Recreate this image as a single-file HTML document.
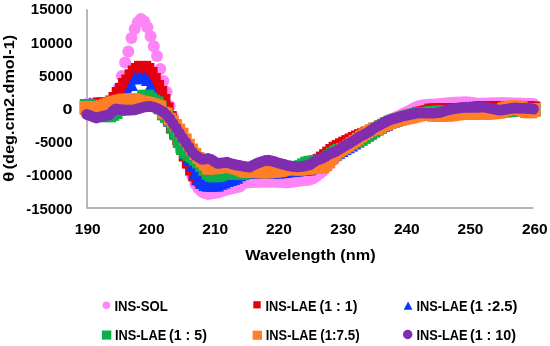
<!DOCTYPE html>
<html lang="en"><head><meta charset="utf-8"><title>CD spectra</title>
<style>html,body{margin:0;padding:0;background:#fff}svg{display:block}</style></head>
<body>
<svg width="550" height="346" viewBox="0 0 550 346">
<rect width="550" height="346" fill="#fff"/>
<path d="M87 9.3V208H533.3" fill="none" stroke="#9c9c9c" stroke-width="1.4"/>
<g fill="#FF84F6"><circle cx="86.8" cy="104.0" r="6.0"/><circle cx="90.0" cy="104.0" r="6.0"/><circle cx="93.2" cy="104.0" r="6.0"/><circle cx="96.4" cy="104.0" r="6.0"/><circle cx="99.6" cy="104.0" r="6.0"/><circle cx="102.8" cy="104.0" r="6.0"/><circle cx="105.9" cy="104.0" r="6.0"/><circle cx="109.1" cy="104.0" r="6.0"/><circle cx="112.3" cy="103.0" r="6.0"/><circle cx="115.5" cy="98.0" r="6.0"/><circle cx="118.7" cy="88.0" r="6.0"/><circle cx="121.9" cy="76.0" r="6.0"/><circle cx="125.1" cy="62.5" r="6.0"/><circle cx="128.3" cy="51.6" r="6.0"/><circle cx="131.5" cy="38.0" r="6.0"/><circle cx="134.7" cy="28.9" r="6.0"/><circle cx="137.8" cy="22.3" r="6.0"/><circle cx="141.0" cy="19.0" r="6.0"/><circle cx="144.2" cy="21.5" r="6.0"/><circle cx="147.4" cy="27.2" r="6.0"/><circle cx="150.6" cy="36.3" r="6.0"/><circle cx="153.8" cy="46.2" r="6.0"/><circle cx="157.0" cy="56.0" r="6.0"/><circle cx="160.2" cy="69.0" r="6.0"/><circle cx="163.4" cy="81.0" r="6.0"/><circle cx="166.6" cy="92.0" r="6.0"/><circle cx="169.7" cy="106.0" r="6.0"/><circle cx="172.9" cy="116.8" r="6.0"/><circle cx="176.1" cy="126.8" r="6.0"/><circle cx="179.3" cy="136.1" r="6.0"/><circle cx="182.5" cy="145.2" r="6.0"/><circle cx="185.7" cy="154.3" r="6.0"/><circle cx="188.9" cy="165.3" r="6.0"/><circle cx="192.1" cy="175.5" r="6.0"/><circle cx="195.3" cy="183.9" r="6.0"/><circle cx="198.4" cy="188.3" r="6.0"/><circle cx="201.6" cy="191.4" r="6.0"/><circle cx="204.8" cy="193.0" r="6.0"/><circle cx="208.0" cy="193.9" r="6.0"/><circle cx="211.2" cy="193.4" r="6.0"/><circle cx="214.4" cy="193.0" r="6.0"/><circle cx="217.6" cy="192.5" r="6.0"/><circle cx="220.8" cy="191.6" r="6.0"/><circle cx="224.0" cy="190.6" r="6.0"/><circle cx="227.2" cy="189.6" r="6.0"/><circle cx="230.4" cy="188.7" r="6.0"/><circle cx="233.5" cy="188.0" r="6.0"/><circle cx="236.7" cy="187.2" r="6.0"/><circle cx="239.9" cy="186.5" r="6.0"/><circle cx="243.1" cy="183.7" r="6.0"/><circle cx="246.3" cy="182.4" r="6.0"/><circle cx="249.5" cy="182.2" r="6.0"/><circle cx="252.7" cy="182.0" r="6.0"/><circle cx="255.9" cy="181.9" r="6.0"/><circle cx="259.1" cy="181.7" r="6.0"/><circle cx="262.2" cy="181.7" r="6.0"/><circle cx="265.4" cy="181.7" r="6.0"/><circle cx="268.6" cy="181.7" r="6.0"/><circle cx="271.8" cy="181.7" r="6.0"/><circle cx="275.0" cy="181.8" r="6.0"/><circle cx="278.2" cy="182.0" r="6.0"/><circle cx="281.4" cy="182.1" r="6.0"/><circle cx="284.6" cy="182.3" r="6.0"/><circle cx="287.8" cy="182.5" r="6.0"/><circle cx="291.0" cy="182.0" r="6.0"/><circle cx="294.1" cy="181.5" r="6.0"/><circle cx="297.3" cy="181.0" r="6.0"/><circle cx="300.5" cy="180.6" r="6.0"/><circle cx="303.7" cy="180.2" r="6.0"/><circle cx="306.9" cy="179.9" r="6.0"/><circle cx="310.1" cy="179.5" r="6.0"/><circle cx="313.3" cy="178.3" r="6.0"/><circle cx="316.5" cy="176.0" r="6.0"/><circle cx="319.7" cy="173.5" r="6.0"/><circle cx="322.9" cy="170.9" r="6.0"/><circle cx="326.1" cy="167.7" r="6.0"/><circle cx="329.2" cy="164.2" r="6.0"/><circle cx="332.4" cy="160.8" r="6.0"/><circle cx="335.6" cy="157.5" r="6.0"/><circle cx="338.8" cy="155.0" r="6.0"/><circle cx="342.0" cy="152.4" r="6.0"/><circle cx="345.2" cy="149.8" r="6.0"/><circle cx="348.4" cy="147.3" r="6.0"/><circle cx="351.6" cy="144.9" r="6.0"/><circle cx="354.8" cy="142.7" r="6.0"/><circle cx="357.9" cy="140.4" r="6.0"/><circle cx="361.1" cy="138.2" r="6.0"/><circle cx="364.3" cy="136.0" r="6.0"/><circle cx="367.5" cy="133.7" r="6.0"/><circle cx="370.7" cy="131.6" r="6.0"/><circle cx="373.9" cy="129.8" r="6.0"/><circle cx="377.1" cy="128.0" r="6.0"/><circle cx="380.3" cy="126.2" r="6.0"/><circle cx="383.5" cy="124.4" r="6.0"/><circle cx="386.7" cy="122.6" r="6.0"/><circle cx="389.9" cy="120.8" r="6.0"/><circle cx="393.0" cy="119.0" r="6.0"/><circle cx="396.2" cy="117.3" r="6.0"/><circle cx="399.4" cy="115.7" r="6.0"/><circle cx="402.6" cy="114.1" r="6.0"/><circle cx="405.8" cy="112.5" r="6.0"/><circle cx="409.0" cy="110.9" r="6.0"/><circle cx="412.2" cy="109.3" r="6.0"/><circle cx="415.4" cy="107.6" r="6.0"/><circle cx="418.6" cy="106.2" r="6.0"/><circle cx="421.8" cy="105.6" r="6.0"/><circle cx="424.9" cy="105.0" r="6.0"/><circle cx="428.1" cy="104.8" r="6.0"/><circle cx="431.3" cy="104.6" r="6.0"/><circle cx="434.5" cy="104.4" r="6.0"/><circle cx="437.7" cy="104.2" r="6.0"/><circle cx="440.9" cy="104.0" r="6.0"/><circle cx="444.1" cy="103.6" r="6.0"/><circle cx="447.3" cy="103.2" r="6.0"/><circle cx="450.5" cy="102.9" r="6.0"/><circle cx="453.6" cy="102.8" r="6.0"/><circle cx="456.8" cy="102.6" r="6.0"/><circle cx="460.0" cy="102.5" r="6.0"/><circle cx="463.2" cy="102.3" r="6.0"/><circle cx="466.4" cy="102.2" r="6.0"/><circle cx="469.6" cy="102.6" r="6.0"/><circle cx="472.8" cy="103.0" r="6.0"/><circle cx="476.0" cy="103.4" r="6.0"/><circle cx="479.2" cy="103.7" r="6.0"/><circle cx="482.4" cy="103.6" r="6.0"/><circle cx="485.6" cy="103.5" r="6.0"/><circle cx="488.7" cy="103.4" r="6.0"/><circle cx="491.9" cy="103.3" r="6.0"/><circle cx="495.1" cy="103.2" r="6.0"/><circle cx="498.3" cy="103.1" r="6.0"/><circle cx="501.5" cy="103.0" r="6.0"/><circle cx="504.7" cy="103.1" r="6.0"/><circle cx="507.9" cy="103.2" r="6.0"/><circle cx="511.1" cy="103.3" r="6.0"/><circle cx="514.3" cy="103.4" r="6.0"/><circle cx="517.4" cy="103.5" r="6.0"/><circle cx="520.6" cy="103.6" r="6.0"/><circle cx="523.8" cy="103.7" r="6.0"/><circle cx="527.0" cy="103.8" r="6.0"/><circle cx="530.2" cy="103.9" r="6.0"/><circle cx="533.4" cy="104.0" r="6.0"/></g>
<g fill="#E4000E"><rect x="79.8" y="100.5" width="14.0" height="14.0"/><rect x="83.0" y="100.5" width="14.0" height="14.0"/><rect x="86.2" y="100.5" width="14.0" height="14.0"/><rect x="89.4" y="100.5" width="14.0" height="14.0"/><rect x="92.6" y="97.5" width="14.0" height="14.0"/><rect x="95.8" y="97.5" width="14.0" height="14.0"/><rect x="98.9" y="97.5" width="14.0" height="14.0"/><rect x="102.1" y="97.5" width="14.0" height="14.0"/><rect x="105.3" y="95.5" width="14.0" height="14.0"/><rect x="108.5" y="92.0" width="14.0" height="14.0"/><rect x="111.7" y="87.0" width="14.0" height="14.0"/><rect x="114.9" y="83.0" width="14.0" height="14.0"/><rect x="118.1" y="78.0" width="14.0" height="14.0"/><rect x="121.3" y="74.5" width="14.0" height="14.0"/><rect x="124.5" y="69.3" width="14.0" height="14.0"/><rect x="127.7" y="65.5" width="14.0" height="14.0"/><rect x="130.8" y="63.0" width="14.0" height="14.0"/><rect x="134.0" y="60.9" width="14.0" height="14.0"/><rect x="137.2" y="60.9" width="14.0" height="14.0"/><rect x="140.4" y="63.0" width="14.0" height="14.0"/><rect x="143.6" y="67.0" width="14.0" height="14.0"/><rect x="146.8" y="73.0" width="14.0" height="14.0"/><rect x="150.0" y="80.0" width="14.0" height="14.0"/><rect x="153.2" y="86.0" width="14.0" height="14.0"/><rect x="156.4" y="94.0" width="14.0" height="14.0"/><rect x="159.6" y="102.5" width="14.0" height="14.0"/><rect x="162.7" y="111.0" width="14.0" height="14.0"/><rect x="165.9" y="119.0" width="14.0" height="14.0"/><rect x="169.1" y="125.0" width="14.0" height="14.0"/><rect x="172.3" y="131.0" width="14.0" height="14.0"/><rect x="175.5" y="139.0" width="14.0" height="14.0"/><rect x="178.7" y="147.5" width="14.0" height="14.0"/><rect x="181.9" y="154.5" width="14.0" height="14.0"/><rect x="185.1" y="161.5" width="14.0" height="14.0"/><rect x="188.3" y="167.5" width="14.0" height="14.0"/><rect x="191.4" y="171.5" width="14.0" height="14.0"/><rect x="194.6" y="173.5" width="14.0" height="14.0"/><rect x="197.8" y="174.5" width="14.0" height="14.0"/><rect x="201.0" y="175.0" width="14.0" height="14.0"/><rect x="204.2" y="175.0" width="14.0" height="14.0"/><rect x="207.4" y="175.0" width="14.0" height="14.0"/><rect x="210.6" y="175.0" width="14.0" height="14.0"/><rect x="213.8" y="171.7" width="14.0" height="14.0"/><rect x="217.0" y="170.6" width="14.0" height="14.0"/><rect x="220.2" y="169.5" width="14.0" height="14.0"/><rect x="223.4" y="168.4" width="14.0" height="14.0"/><rect x="226.5" y="167.3" width="14.0" height="14.0"/><rect x="229.7" y="166.1" width="14.0" height="14.0"/><rect x="232.9" y="165.0" width="14.0" height="14.0"/><rect x="236.1" y="164.4" width="14.0" height="14.0"/><rect x="239.3" y="163.7" width="14.0" height="14.0"/><rect x="242.5" y="163.1" width="14.0" height="14.0"/><rect x="245.7" y="163.0" width="14.0" height="14.0"/><rect x="248.9" y="163.0" width="14.0" height="14.0"/><rect x="252.1" y="163.0" width="14.0" height="14.0"/><rect x="255.2" y="163.0" width="14.0" height="14.0"/><rect x="258.4" y="163.0" width="14.0" height="14.0"/><rect x="261.6" y="163.0" width="14.0" height="14.0"/><rect x="264.8" y="163.0" width="14.0" height="14.0"/><rect x="268.0" y="163.0" width="14.0" height="14.0"/><rect x="271.2" y="163.0" width="14.0" height="14.0"/><rect x="274.4" y="163.0" width="14.0" height="14.0"/><rect x="277.6" y="163.0" width="14.0" height="14.0"/><rect x="280.8" y="163.0" width="14.0" height="14.0"/><rect x="284.0" y="162.9" width="14.0" height="14.0"/><rect x="287.1" y="162.4" width="14.0" height="14.0"/><rect x="290.3" y="162.0" width="14.0" height="14.0"/><rect x="293.5" y="161.6" width="14.0" height="14.0"/><rect x="296.7" y="161.2" width="14.0" height="14.0"/><rect x="299.9" y="160.2" width="14.0" height="14.0"/><rect x="303.1" y="158.8" width="14.0" height="14.0"/><rect x="306.3" y="157.4" width="14.0" height="14.0"/><rect x="309.5" y="155.8" width="14.0" height="14.0"/><rect x="312.7" y="153.8" width="14.0" height="14.0"/><rect x="315.9" y="151.6" width="14.0" height="14.0"/><rect x="319.1" y="149.2" width="14.0" height="14.0"/><rect x="322.2" y="146.6" width="14.0" height="14.0"/><rect x="325.4" y="144.0" width="14.0" height="14.0"/><rect x="328.6" y="141.8" width="14.0" height="14.0"/><rect x="331.8" y="140.0" width="14.0" height="14.0"/><rect x="335.0" y="138.3" width="14.0" height="14.0"/><rect x="338.2" y="136.7" width="14.0" height="14.0"/><rect x="341.4" y="135.1" width="14.0" height="14.0"/><rect x="344.6" y="133.5" width="14.0" height="14.0"/><rect x="347.8" y="132.0" width="14.0" height="14.0"/><rect x="350.9" y="130.5" width="14.0" height="14.0"/><rect x="354.1" y="129.1" width="14.0" height="14.0"/><rect x="357.3" y="127.9" width="14.0" height="14.0"/><rect x="360.5" y="126.7" width="14.0" height="14.0"/><rect x="364.5" y="125.8" width="12.5" height="12.5"/><rect x="367.7" y="124.1" width="12.5" height="12.5"/><rect x="370.8" y="122.4" width="12.5" height="12.5"/><rect x="374.0" y="120.7" width="12.5" height="12.5"/><rect x="377.2" y="119.2" width="12.5" height="12.5"/><rect x="380.4" y="117.9" width="12.5" height="12.5"/><rect x="383.6" y="116.6" width="12.5" height="12.5"/><rect x="386.8" y="115.4" width="12.5" height="12.5"/><rect x="390.0" y="114.2" width="12.5" height="12.5"/><rect x="393.2" y="113.0" width="12.5" height="12.5"/><rect x="396.4" y="111.9" width="12.5" height="12.5"/><rect x="399.6" y="110.9" width="12.5" height="12.5"/><rect x="402.7" y="109.9" width="12.5" height="12.5"/><rect x="405.9" y="108.9" width="12.5" height="12.5"/><rect x="409.1" y="108.0" width="12.5" height="12.5"/><rect x="412.3" y="107.2" width="12.5" height="12.5"/><rect x="415.5" y="106.4" width="12.5" height="12.5"/><rect x="418.7" y="105.7" width="12.5" height="12.5"/><rect x="421.9" y="105.1" width="12.5" height="12.5"/><rect x="424.3" y="103.6" width="14.0" height="14.0"/><rect x="427.5" y="103.5" width="14.0" height="14.0"/><rect x="430.7" y="103.5" width="14.0" height="14.0"/><rect x="433.9" y="103.4" width="14.0" height="14.0"/><rect x="437.1" y="103.4" width="14.0" height="14.0"/><rect x="440.3" y="103.4" width="14.0" height="14.0"/><rect x="443.5" y="103.3" width="14.0" height="14.0"/><rect x="446.6" y="103.3" width="14.0" height="14.0"/><rect x="449.8" y="103.2" width="14.0" height="14.0"/><rect x="453.0" y="103.0" width="14.0" height="14.0"/><rect x="456.2" y="102.9" width="14.0" height="14.0"/><rect x="459.4" y="102.7" width="14.0" height="14.0"/><rect x="462.6" y="102.5" width="14.0" height="14.0"/><rect x="465.8" y="102.2" width="14.0" height="14.0"/><rect x="469.0" y="101.8" width="14.0" height="14.0"/><rect x="472.2" y="101.4" width="14.0" height="14.0"/><rect x="475.4" y="101.0" width="14.0" height="14.0"/><rect x="478.6" y="101.0" width="14.0" height="14.0"/><rect x="481.7" y="101.0" width="14.0" height="14.0"/><rect x="484.9" y="101.0" width="14.0" height="14.0"/><rect x="488.1" y="101.0" width="14.0" height="14.0"/><rect x="491.3" y="101.0" width="14.0" height="14.0"/><rect x="494.5" y="101.0" width="14.0" height="14.0"/><rect x="497.7" y="101.1" width="14.0" height="14.0"/><rect x="500.9" y="101.2" width="14.0" height="14.0"/><rect x="504.1" y="101.3" width="14.0" height="14.0"/><rect x="507.3" y="101.4" width="14.0" height="14.0"/><rect x="510.4" y="101.4" width="14.0" height="14.0"/><rect x="513.6" y="101.5" width="14.0" height="14.0"/><rect x="516.8" y="101.5" width="14.0" height="14.0"/><rect x="520.0" y="101.5" width="14.0" height="14.0"/><rect x="523.2" y="101.5" width="14.0" height="14.0"/><rect x="526.4" y="101.5" width="14.0" height="14.0"/></g>
<g fill="#0A36FF"><path d="M86.8 101.2L93.3 113.8H80.3Z"/><path d="M90.0 97.0L96.5 109.5H83.5Z"/><path d="M93.2 101.2L99.7 113.8H86.7Z"/><path d="M96.4 101.2L102.9 113.8H89.9Z"/><path d="M99.6 99.0L106.1 111.5H93.1Z"/><path d="M102.8 101.2L109.2 113.8H96.2Z"/><path d="M105.9 100.6L112.4 113.1H99.4Z"/><path d="M109.1 99.9L115.6 112.4H102.6Z"/><path d="M112.3 99.3L118.8 111.8H105.8Z"/><path d="M115.5 98.5L122.0 111.0H109.0Z"/><path d="M118.7 97.2L125.2 109.7H112.2Z"/><path d="M121.9 95.8L128.4 108.3H115.4Z"/><path d="M125.1 91.6L131.6 104.1H118.6Z"/><path d="M128.3 86.8L134.8 99.2H121.8Z"/><path d="M131.5 78.5L138.0 91.0H125.0Z"/><path d="M134.7 72.0L141.2 84.5H128.2Z"/><path d="M137.8 71.6L144.3 84.1H131.3Z"/><path d="M141.0 71.6L147.5 84.1H134.5Z"/><path d="M144.2 71.6L150.7 84.1H137.7Z"/><path d="M147.4 73.5L153.9 86.0H140.9Z"/><path d="M150.6 79.5L157.1 92.0H144.1Z"/><path d="M153.8 86.8L160.3 99.2H147.3Z"/><path d="M157.0 94.8L163.5 107.3H150.5Z"/><path d="M160.2 100.5L166.7 113.0H153.7Z"/><path d="M163.4 104.6L169.9 117.1H156.9Z"/><path d="M166.6 109.2L173.1 121.7H160.1Z"/><path d="M169.7 114.2L176.2 126.7H163.2Z"/><path d="M172.9 119.5L179.4 132.0H166.4Z"/><path d="M176.1 125.3L182.6 137.8H169.6Z"/><path d="M179.3 131.5L185.8 144.0H172.8Z"/><path d="M182.5 138.6L189.0 151.1H176.0Z"/><path d="M185.7 146.6L192.2 159.1H179.2Z"/><path d="M188.9 153.1L195.4 165.6H182.4Z"/><path d="M192.1 159.5L198.6 172.0H185.6Z"/><path d="M195.3 166.6L201.8 179.1H188.8Z"/><path d="M198.4 172.5L204.9 185.0H191.9Z"/><path d="M201.6 176.4L208.1 188.9H195.1Z"/><path d="M204.8 178.4L211.3 190.9H198.3Z"/><path d="M208.0 179.2L214.5 191.8H201.5Z"/><path d="M211.2 179.2L217.7 191.8H204.7Z"/><path d="M214.4 179.2L220.9 191.8H207.9Z"/><path d="M217.6 178.9L224.1 191.4H211.1Z"/><path d="M220.8 177.3L227.3 189.8H214.3Z"/><path d="M224.0 175.9L230.5 188.4H217.5Z"/><path d="M227.2 174.6L233.7 187.1H220.7Z"/><path d="M230.4 173.4L236.9 185.9H223.9Z"/><path d="M233.5 172.4L240.0 184.9H227.0Z"/><path d="M236.7 171.3L243.2 183.8H230.2Z"/><path d="M239.9 168.8L246.4 181.3H233.4Z"/><path d="M243.1 167.3L249.6 179.8H236.6Z"/><path d="M246.3 165.9L252.8 178.4H239.8Z"/><path d="M249.5 165.9L256.0 178.4H243.0Z"/><path d="M252.7 165.9L259.2 178.4H246.2Z"/><path d="M255.9 165.9L262.4 178.4H249.4Z"/><path d="M259.1 165.9L265.6 178.4H252.6Z"/><path d="M262.2 165.9L268.8 178.4H255.8Z"/><path d="M265.4 165.9L271.9 178.4H258.9Z"/><path d="M268.6 165.9L275.1 178.4H262.1Z"/><path d="M271.8 165.9L278.3 178.4H265.3Z"/><path d="M275.0 165.9L281.5 178.4H268.5Z"/><path d="M278.2 165.9L284.7 178.4H271.7Z"/><path d="M281.4 165.8L287.9 178.3H274.9Z"/><path d="M284.6 165.4L291.1 177.9H278.1Z"/><path d="M287.8 165.0L294.3 177.5H281.3Z"/><path d="M291.0 164.6L297.5 177.1H284.5Z"/><path d="M294.1 164.3L300.6 176.8H287.6Z"/><path d="M297.3 163.9L303.8 176.4H290.8Z"/><path d="M300.5 163.5L307.0 176.0H294.0Z"/><path d="M303.7 163.3L310.2 175.8H297.2Z"/><path d="M306.9 163.0L313.4 175.5H300.4Z"/><path d="M310.1 162.7L316.6 175.2H303.6Z"/><path d="M313.3 161.1L319.8 173.6H306.8Z"/><path d="M316.5 159.5L323.0 172.0H310.0Z"/><path d="M319.7 157.9L326.2 170.4H313.2Z"/><path d="M322.9 155.9L329.4 168.4H316.4Z"/><path d="M326.1 153.8L332.6 166.3H319.6Z"/><path d="M329.2 151.7L335.7 164.2H322.7Z"/><path d="M332.4 149.9L338.9 162.4H325.9Z"/><path d="M335.6 148.2L342.1 160.7H329.1Z"/><path d="M338.8 146.3L345.3 158.8H332.3Z"/><path d="M342.0 144.4L348.5 156.9H335.5Z"/><path d="M345.2 142.5L351.7 155.0H338.7Z"/><path d="M348.4 140.8L354.9 153.3H341.9Z"/><path d="M351.6 139.0L358.1 151.5H345.1Z"/><path d="M354.8 137.0L361.3 149.5H348.3Z"/><path d="M357.9 135.0L364.4 147.5H351.4Z"/><path d="M361.1 133.0L367.6 145.5H354.6Z"/><path d="M364.3 131.0L370.8 143.5H357.8Z"/><path d="M367.5 129.1L374.0 141.6H361.0Z"/><path d="M370.7 127.1L377.2 139.6H364.2Z"/><path d="M373.9 125.1L380.4 137.6H367.4Z"/><path d="M377.1 123.1L383.6 135.6H370.6Z"/><path d="M380.3 121.1L386.8 133.6H373.8Z"/><path d="M383.5 119.6L390.0 132.1H377.0Z"/><path d="M386.7 118.1L393.2 130.6H380.2Z"/><path d="M389.9 116.6L396.4 129.1H383.4Z"/><path d="M393.0 115.1L399.5 127.6H386.5Z"/><path d="M396.2 113.5L402.7 126.0H389.7Z"/><path d="M399.4 112.0L405.9 124.5H392.9Z"/><path d="M402.6 111.1L409.1 123.6H396.1Z"/><path d="M405.8 110.3L412.3 122.8H399.3Z"/><path d="M409.0 109.5L415.5 122.0H402.5Z"/><path d="M412.2 108.7L418.7 121.2H405.7Z"/><path d="M415.4 107.9L421.9 120.4H408.9Z"/><path d="M418.6 107.1L425.1 119.6H412.1Z"/><path d="M421.8 106.6L428.2 119.1H415.2Z"/><path d="M424.9 106.3L431.4 118.8H418.4Z"/><path d="M428.1 105.9L434.6 118.4H421.6Z"/><path d="M431.3 105.6L437.8 118.1H424.8Z"/><path d="M434.5 105.3L441.0 117.8H428.0Z"/><path d="M437.7 105.0L444.2 117.5H431.2Z"/><path d="M440.9 104.7L447.4 117.2H434.4Z"/><path d="M444.1 104.3L450.6 116.8H437.6Z"/><path d="M447.3 104.0L453.8 116.5H440.8Z"/><path d="M450.5 103.7L457.0 116.2H444.0Z"/><path d="M453.6 103.6L460.1 116.1H447.1Z"/><path d="M456.8 103.5L463.3 116.0H450.3Z"/><path d="M460.0 103.4L466.5 115.9H453.5Z"/><path d="M463.2 103.3L469.7 115.8H456.7Z"/><path d="M466.4 103.2L472.9 115.7H459.9Z"/><path d="M469.6 103.1L476.1 115.6H463.1Z"/><path d="M472.8 103.0L479.3 115.5H466.3Z"/><path d="M476.0 102.9L482.5 115.4H469.5Z"/><path d="M479.2 102.8L485.7 115.3H472.7Z"/><path d="M482.4 102.8L488.9 115.2H475.9Z"/><path d="M485.6 102.8L492.1 115.2H479.1Z"/><path d="M488.7 102.8L495.2 115.2H482.2Z"/><path d="M491.9 102.8L498.4 115.2H485.4Z"/><path d="M495.1 102.8L501.6 115.2H488.6Z"/><path d="M498.3 102.8L504.8 115.2H491.8Z"/><path d="M501.5 102.8L508.0 115.2H495.0Z"/><path d="M504.7 102.8L511.2 115.2H498.2Z"/><path d="M507.9 102.7L514.4 115.2H501.4Z"/><path d="M511.1 102.6L517.6 115.1H504.6Z"/><path d="M514.3 102.4L520.8 114.9H507.8Z"/><path d="M517.4 102.3L523.9 114.8H510.9Z"/><path d="M520.6 102.2L527.1 114.7H514.1Z"/><path d="M523.8 102.1L530.3 114.6H517.3Z"/><path d="M527.0 102.0L533.5 114.5H520.5Z"/><path d="M530.2 101.9L536.7 114.4H523.7Z"/><path d="M533.4 101.8L539.9 114.3H526.9Z"/></g>
<g fill="#0CAF4C"><rect x="79.8" y="99.0" width="14" height="14"/><rect x="83.0" y="99.3" width="14" height="14"/><rect x="86.2" y="100.5" width="14" height="14"/><rect x="89.4" y="101.5" width="14" height="14"/><rect x="92.6" y="103.9" width="14" height="14"/><rect x="95.8" y="106.3" width="14" height="14"/><rect x="98.9" y="108.1" width="14" height="14"/><rect x="102.1" y="108.3" width="14" height="14"/><rect x="105.3" y="106.8" width="14" height="14"/><rect x="108.5" y="105.0" width="14" height="14"/><rect x="111.7" y="102.0" width="14" height="14"/><rect x="114.9" y="101.3" width="14" height="14"/><rect x="118.1" y="100.7" width="14" height="14"/><rect x="121.3" y="99.9" width="14" height="14"/><rect x="124.5" y="99.1" width="14" height="14"/><rect x="127.7" y="97.6" width="14" height="14"/><rect x="130.8" y="96.0" width="14" height="14"/><rect x="134.0" y="93.5" width="14" height="14"/><rect x="137.2" y="89.8" width="14" height="14"/><rect x="140.4" y="89.8" width="14" height="14"/><rect x="144.1" y="92.5" width="13.0" height="13.0"/><rect x="147.3" y="94.7" width="13.0" height="13.0"/><rect x="150.5" y="96.5" width="13.0" height="13.0"/><rect x="153.7" y="101.4" width="13.0" height="13.0"/><rect x="156.9" y="107.4" width="13.0" height="13.0"/><rect x="160.1" y="109.9" width="13.0" height="13.0"/><rect x="163.2" y="113.6" width="13.0" height="13.0"/><rect x="166.4" y="121.0" width="13.0" height="13.0"/><rect x="169.6" y="127.3" width="13.0" height="13.0"/><rect x="172.8" y="135.0" width="13.0" height="13.0"/><rect x="176.0" y="142.0" width="13.0" height="13.0"/><rect x="179.2" y="145.6" width="13.0" height="13.0"/><rect x="182.4" y="147.9" width="13.0" height="13.0"/><rect x="185.6" y="149.8" width="13.0" height="13.0"/><rect x="188.8" y="152.4" width="13.0" height="13.0"/><rect x="191.9" y="155.4" width="13.0" height="13.0"/><rect x="195.1" y="158.9" width="13.0" height="13.0"/><rect x="198.3" y="162.8" width="13.0" height="13.0"/><rect x="201.5" y="166.7" width="13.0" height="13.0"/><rect x="204.7" y="168.7" width="13.0" height="13.0"/><rect x="207.9" y="169.4" width="13.0" height="13.0"/><rect x="211.1" y="168.9" width="13.0" height="13.0"/><rect x="214.3" y="167.9" width="13.0" height="13.0"/><rect x="217.5" y="166.9" width="13.0" height="13.0"/><rect x="220.7" y="166.6" width="13.0" height="13.0"/><rect x="223.9" y="166.2" width="13.0" height="13.0"/><rect x="227.0" y="166.2" width="13.0" height="13.0"/><rect x="230.2" y="167.0" width="13.0" height="13.0"/><rect x="233.4" y="167.1" width="13.0" height="13.0"/><rect x="236.6" y="166.0" width="13.0" height="13.0"/><rect x="239.8" y="165.3" width="13.0" height="13.0"/><rect x="243.0" y="164.9" width="13.0" height="13.0"/><rect x="246.2" y="164.4" width="13.0" height="13.0"/><rect x="249.4" y="164.0" width="13.0" height="13.0"/><rect x="252.6" y="163.6" width="13.0" height="13.0"/><rect x="255.8" y="163.4" width="13.0" height="13.0"/><rect x="258.9" y="163.2" width="13.0" height="13.0"/><rect x="262.1" y="163.1" width="13.0" height="13.0"/><rect x="265.3" y="162.9" width="13.0" height="13.0"/><rect x="268.5" y="162.8" width="13.0" height="13.0"/><rect x="271.7" y="162.6" width="13.0" height="13.0"/><rect x="274.9" y="162.5" width="13.0" height="13.0"/><rect x="278.1" y="162.3" width="13.0" height="13.0"/><rect x="281.3" y="162.1" width="13.0" height="13.0"/><rect x="284.5" y="161.9" width="13.0" height="13.0"/><rect x="287.6" y="161.7" width="13.0" height="13.0"/><rect x="290.8" y="161.5" width="13.0" height="13.0"/><rect x="294.0" y="160.2" width="13.0" height="13.0"/><rect x="297.2" y="158.4" width="13.0" height="13.0"/><rect x="300.4" y="156.6" width="13.0" height="13.0"/><rect x="303.6" y="155.9" width="13.0" height="13.0"/><rect x="306.8" y="155.4" width="13.0" height="13.0"/><rect x="310.0" y="155.1" width="13.0" height="13.0"/><rect x="313.2" y="154.7" width="13.0" height="13.0"/><rect x="316.4" y="154.2" width="13.0" height="13.0"/><rect x="319.6" y="152.7" width="13.0" height="13.0"/><rect x="322.7" y="150.2" width="13.0" height="13.0"/><rect x="325.9" y="147.7" width="13.0" height="13.0"/><rect x="329.1" y="145.5" width="13.0" height="13.0"/><rect x="332.3" y="143.9" width="13.0" height="13.0"/><rect x="336.5" y="144.7" width="11.0" height="11.0"/><rect x="339.7" y="142.8" width="11.0" height="11.0"/><rect x="342.9" y="141.0" width="11.0" height="11.0"/><rect x="346.1" y="139.1" width="11.0" height="11.0"/><rect x="349.3" y="137.2" width="11.0" height="11.0"/><rect x="351.4" y="134.5" width="13.0" height="13.0"/><rect x="354.6" y="132.6" width="13.0" height="13.0"/><rect x="357.8" y="130.5" width="13.0" height="13.0"/><rect x="361.0" y="128.4" width="13.0" height="13.0"/><rect x="364.2" y="126.4" width="13.0" height="13.0"/><rect x="367.4" y="124.0" width="13.0" height="13.0"/><rect x="370.6" y="122.1" width="13.0" height="13.0"/><rect x="373.8" y="120.4" width="13.0" height="13.0"/><rect x="377.0" y="118.7" width="13.0" height="13.0"/><rect x="380.2" y="117.0" width="13.0" height="13.0"/><rect x="383.4" y="115.5" width="13.0" height="13.0"/><rect x="386.5" y="114.5" width="13.0" height="13.0"/><rect x="389.7" y="113.6" width="13.0" height="13.0"/><rect x="392.9" y="112.7" width="13.0" height="13.0"/><rect x="396.1" y="111.8" width="13.0" height="13.0"/><rect x="399.3" y="110.8" width="13.0" height="13.0"/><rect x="402.5" y="109.8" width="13.0" height="13.0"/><rect x="405.7" y="108.9" width="13.0" height="13.0"/><rect x="408.9" y="108.0" width="13.0" height="13.0"/><rect x="412.1" y="107.6" width="13.0" height="13.0"/><rect x="415.2" y="107.3" width="13.0" height="13.0"/><rect x="418.4" y="107.0" width="13.0" height="13.0"/><rect x="421.6" y="106.7" width="13.0" height="13.0"/><rect x="424.3" y="105.9" width="14" height="14"/><rect x="427.5" y="105.8" width="14" height="14"/><rect x="430.7" y="105.6" width="14" height="14"/><rect x="433.9" y="105.5" width="14" height="14"/><rect x="437.1" y="105.3" width="14" height="14"/><rect x="440.3" y="105.1" width="14" height="14"/><rect x="443.5" y="105.0" width="14" height="14"/><rect x="446.6" y="105.0" width="14" height="14"/><rect x="449.8" y="105.1" width="14" height="14"/><rect x="453.0" y="105.1" width="14" height="14"/><rect x="456.2" y="105.1" width="14" height="14"/><rect x="459.4" y="105.1" width="14" height="14"/><rect x="462.6" y="105.2" width="14" height="14"/><rect x="465.8" y="105.2" width="14" height="14"/><rect x="469.0" y="105.2" width="14" height="14"/><rect x="472.2" y="105.2" width="14" height="14"/><rect x="475.4" y="105.3" width="14" height="14"/><rect x="478.6" y="105.3" width="14" height="14"/><rect x="481.7" y="105.0" width="14" height="14"/><rect x="484.9" y="104.7" width="14" height="14"/><rect x="488.1" y="104.4" width="14" height="14"/><rect x="491.3" y="104.1" width="14" height="14"/><rect x="494.5" y="103.8" width="14" height="14"/><rect x="497.7" y="103.5" width="14" height="14"/><rect x="500.9" y="103.2" width="14" height="14"/><rect x="504.1" y="103.0" width="14" height="14"/><rect x="507.3" y="103.0" width="14" height="14"/><rect x="510.4" y="103.0" width="14" height="14"/><rect x="513.6" y="103.0" width="14" height="14"/><rect x="516.8" y="103.0" width="14" height="14"/><rect x="520.0" y="103.0" width="14" height="14"/><rect x="523.2" y="103.0" width="14" height="14"/><rect x="526.4" y="103.0" width="14" height="14"/></g>
<g fill="#FF7F27"><rect x="79.8" y="101.0" width="14" height="14"/><rect x="83.0" y="101.5" width="14" height="14"/><rect x="86.2" y="102.1" width="14" height="14"/><rect x="89.4" y="102.0" width="14" height="14"/><rect x="92.6" y="101.0" width="14" height="14"/><rect x="95.8" y="99.9" width="14" height="14"/><rect x="98.9" y="98.7" width="14" height="14"/><rect x="102.1" y="97.6" width="14" height="14"/><rect x="105.3" y="96.4" width="14" height="14"/><rect x="108.5" y="95.7" width="14" height="14"/><rect x="111.7" y="94.9" width="14" height="14"/><rect x="114.9" y="94.1" width="14" height="14"/><rect x="118.1" y="93.6" width="14" height="14"/><rect x="121.3" y="93.6" width="14" height="14"/><rect x="124.5" y="93.5" width="14" height="14"/><rect x="127.7" y="93.5" width="14" height="14"/><rect x="130.8" y="94.6" width="14" height="14"/><rect x="134.0" y="95.6" width="14" height="14"/><rect x="137.2" y="96.1" width="14" height="14"/><rect x="140.4" y="97.0" width="14" height="14"/><rect x="144.6" y="97.7" width="12.0" height="12.0"/><rect x="147.8" y="98.4" width="12.0" height="12.0"/><rect x="151.0" y="99.5" width="12.0" height="12.0"/><rect x="154.2" y="100.4" width="12.0" height="12.0"/><rect x="157.4" y="106.7" width="12.0" height="12.0"/><rect x="160.6" y="107.5" width="12.0" height="12.0"/><rect x="163.7" y="112.8" width="12.0" height="12.0"/><rect x="166.9" y="116.0" width="12.0" height="12.0"/><rect x="170.1" y="119.2" width="12.0" height="12.0"/><rect x="173.3" y="123.6" width="12.0" height="12.0"/><rect x="176.5" y="127.7" width="12.0" height="12.0"/><rect x="179.7" y="133.5" width="12.0" height="12.0"/><rect x="182.9" y="138.7" width="12.0" height="12.0"/><rect x="186.1" y="143.5" width="12.0" height="12.0"/><rect x="189.3" y="148.0" width="12.0" height="12.0"/><rect x="192.4" y="152.0" width="12.0" height="12.0"/><rect x="195.6" y="155.5" width="12.0" height="12.0"/><rect x="198.8" y="158.5" width="12.0" height="12.0"/><rect x="202.0" y="162.6" width="12.0" height="12.0"/><rect x="205.2" y="162.4" width="12.0" height="12.0"/><rect x="208.4" y="162.2" width="12.0" height="12.0"/><rect x="211.6" y="162.0" width="12.0" height="12.0"/><rect x="214.8" y="161.2" width="12.0" height="12.0"/><rect x="218.0" y="160.2" width="12.0" height="12.0"/><rect x="221.2" y="160.0" width="12.0" height="12.0"/><rect x="224.4" y="160.7" width="12.0" height="12.0"/><rect x="227.5" y="161.5" width="12.0" height="12.0"/><rect x="230.7" y="162.5" width="12.0" height="12.0"/><rect x="233.9" y="163.6" width="12.0" height="12.0"/><rect x="237.1" y="165.1" width="12.0" height="12.0"/><rect x="240.3" y="165.8" width="12.0" height="12.0"/><rect x="243.5" y="165.9" width="12.0" height="12.0"/><rect x="246.7" y="166.0" width="12.0" height="12.0"/><rect x="249.9" y="166.1" width="12.0" height="12.0"/><rect x="253.1" y="166.2" width="12.0" height="12.0"/><rect x="256.2" y="166.3" width="12.0" height="12.0"/><rect x="259.4" y="166.4" width="12.0" height="12.0"/><rect x="262.6" y="166.4" width="12.0" height="12.0"/><rect x="265.8" y="166.0" width="12.0" height="12.0"/><rect x="269.0" y="165.7" width="12.0" height="12.0"/><rect x="272.2" y="165.3" width="12.0" height="12.0"/><rect x="275.4" y="164.9" width="12.0" height="12.0"/><rect x="278.6" y="163.9" width="12.0" height="12.0"/><rect x="281.8" y="162.9" width="12.0" height="12.0"/><rect x="285.0" y="163.0" width="12.0" height="12.0"/><rect x="288.1" y="163.3" width="12.0" height="12.0"/><rect x="291.3" y="163.5" width="12.0" height="12.0"/><rect x="294.5" y="163.6" width="12.0" height="12.0"/><rect x="297.7" y="163.3" width="12.0" height="12.0"/><rect x="300.9" y="162.9" width="12.0" height="12.0"/><rect x="304.1" y="162.5" width="12.0" height="12.0"/><rect x="307.3" y="162.2" width="12.0" height="12.0"/><rect x="310.5" y="162.0" width="12.0" height="12.0"/><rect x="313.7" y="161.7" width="12.0" height="12.0"/><rect x="316.9" y="161.5" width="12.0" height="12.0"/><rect x="320.1" y="159.0" width="12.0" height="12.0"/><rect x="323.2" y="156.2" width="12.0" height="12.0"/><rect x="326.4" y="152.4" width="12.0" height="12.0"/><rect x="329.6" y="148.7" width="12.0" height="12.0"/><rect x="332.8" y="145.7" width="12.0" height="12.0"/><rect x="336.0" y="143.3" width="12.0" height="12.0"/><rect x="339.2" y="141.8" width="12.0" height="12.0"/><rect x="342.4" y="139.6" width="12.0" height="12.0"/><rect x="345.6" y="137.2" width="12.0" height="12.0"/><rect x="348.8" y="134.9" width="12.0" height="12.0"/><rect x="351.9" y="132.7" width="12.0" height="12.0"/><rect x="355.1" y="130.4" width="12.0" height="12.0"/><rect x="358.3" y="128.2" width="12.0" height="12.0"/><rect x="361.5" y="126.1" width="12.0" height="12.0"/><rect x="364.7" y="124.3" width="12.0" height="12.0"/><rect x="367.9" y="122.5" width="12.0" height="12.0"/><rect x="371.1" y="122.9" width="12.0" height="12.0"/><rect x="374.3" y="121.0" width="12.0" height="12.0"/><rect x="377.5" y="119.2" width="12.0" height="12.0"/><rect x="380.7" y="118.1" width="12.0" height="12.0"/><rect x="383.9" y="117.0" width="12.0" height="12.0"/><rect x="387.0" y="115.9" width="12.0" height="12.0"/><rect x="390.2" y="114.8" width="12.0" height="12.0"/><rect x="393.4" y="113.9" width="12.0" height="12.0"/><rect x="396.6" y="113.3" width="12.0" height="12.0"/><rect x="399.8" y="112.6" width="12.0" height="12.0"/><rect x="403.0" y="112.0" width="12.0" height="12.0"/><rect x="406.2" y="111.4" width="12.0" height="12.0"/><rect x="409.4" y="110.5" width="12.0" height="12.0"/><rect x="412.6" y="109.6" width="12.0" height="12.0"/><rect x="415.8" y="108.7" width="12.0" height="12.0"/><rect x="418.9" y="107.9" width="12.0" height="12.0"/><rect x="422.1" y="107.8" width="12.0" height="12.0"/><rect x="424.3" y="107.1" width="14" height="14"/><rect x="427.5" y="107.8" width="14" height="14"/><rect x="430.7" y="107.9" width="14" height="14"/><rect x="433.9" y="107.8" width="14" height="14"/><rect x="437.1" y="107.7" width="14" height="14"/><rect x="440.3" y="107.6" width="14" height="14"/><rect x="443.5" y="107.3" width="14" height="14"/><rect x="446.6" y="106.8" width="14" height="14"/><rect x="449.8" y="106.3" width="14" height="14"/><rect x="453.0" y="105.8" width="14" height="14"/><rect x="456.2" y="105.4" width="14" height="14"/><rect x="459.4" y="105.4" width="14" height="14"/><rect x="462.6" y="105.6" width="14" height="14"/><rect x="465.8" y="105.7" width="14" height="14"/><rect x="469.0" y="105.9" width="14" height="14"/><rect x="472.2" y="105.9" width="14" height="14"/><rect x="475.4" y="105.8" width="14" height="14"/><rect x="478.6" y="105.6" width="14" height="14"/><rect x="481.7" y="105.5" width="14" height="14"/><rect x="484.9" y="105.3" width="14" height="14"/><rect x="488.1" y="105.0" width="14" height="14"/><rect x="491.3" y="104.7" width="14" height="14"/><rect x="494.5" y="103.8" width="14" height="14"/><rect x="497.7" y="102.2" width="14" height="14"/><rect x="500.9" y="101.3" width="14" height="14"/><rect x="504.1" y="100.7" width="14" height="14"/><rect x="507.3" y="100.3" width="14" height="14"/><rect x="510.4" y="100.7" width="14" height="14"/><rect x="513.6" y="101.3" width="14" height="14"/><rect x="516.8" y="102.9" width="14" height="14"/><rect x="520.0" y="104.1" width="14" height="14"/><rect x="523.2" y="104.4" width="14" height="14"/><rect x="526.4" y="103.0" width="14" height="14"/></g>
<g fill="#802DB0"><circle cx="86.8" cy="114.4" r="5.5"/><circle cx="90.0" cy="115.6" r="5.5"/><circle cx="93.2" cy="116.9" r="5.5"/><circle cx="96.4" cy="117.9" r="5.5"/><circle cx="99.6" cy="117.1" r="5.5"/><circle cx="102.8" cy="116.3" r="5.5"/><circle cx="105.9" cy="115.6" r="5.5"/><circle cx="109.1" cy="114.7" r="5.5"/><circle cx="112.3" cy="111.6" r="5.5"/><circle cx="115.5" cy="109.1" r="5.5"/><circle cx="118.7" cy="109.4" r="5.5"/><circle cx="121.9" cy="109.8" r="5.5"/><circle cx="125.1" cy="110.0" r="5.5"/><circle cx="128.3" cy="110.0" r="5.5"/><circle cx="131.5" cy="110.0" r="5.5"/><circle cx="134.7" cy="109.8" r="5.5"/><circle cx="137.8" cy="108.8" r="5.5"/><circle cx="141.0" cy="107.9" r="5.5"/><circle cx="144.2" cy="107.0" r="5.5"/><circle cx="147.4" cy="106.6" r="5.5"/><circle cx="150.6" cy="106.5" r="5.5"/><circle cx="153.8" cy="107.2" r="5.5"/><circle cx="157.0" cy="108.5" r="5.5"/><circle cx="160.2" cy="110.2" r="5.5"/><circle cx="163.4" cy="112.0" r="5.5"/><circle cx="166.6" cy="114.9" r="5.5"/><circle cx="169.7" cy="118.7" r="5.5"/><circle cx="172.9" cy="123.3" r="5.5"/><circle cx="176.1" cy="127.9" r="5.5"/><circle cx="179.3" cy="133.0" r="5.5"/><circle cx="182.5" cy="137.8" r="5.5"/><circle cx="185.7" cy="142.2" r="5.5"/><circle cx="188.9" cy="146.9" r="5.5"/><circle cx="192.1" cy="151.8" r="5.5"/><circle cx="195.3" cy="155.2" r="5.5"/><circle cx="198.4" cy="157.2" r="5.5"/><circle cx="201.6" cy="159.2" r="5.5"/><circle cx="204.8" cy="159.1" r="5.5"/><circle cx="208.0" cy="158.5" r="5.5"/><circle cx="211.2" cy="159.4" r="5.5"/><circle cx="214.4" cy="161.6" r="5.5"/><circle cx="217.6" cy="163.3" r="5.5"/><circle cx="220.8" cy="163.1" r="5.5"/><circle cx="224.0" cy="162.7" r="5.5"/><circle cx="227.2" cy="162.3" r="5.5"/><circle cx="230.4" cy="163.4" r="5.5"/><circle cx="233.5" cy="164.3" r="5.5"/><circle cx="236.7" cy="165.0" r="5.5"/><circle cx="239.9" cy="165.6" r="5.5"/><circle cx="243.1" cy="166.2" r="5.5"/><circle cx="246.3" cy="166.7" r="5.5"/><circle cx="249.5" cy="167.0" r="5.5"/><circle cx="252.7" cy="165.4" r="5.5"/><circle cx="255.9" cy="163.8" r="5.5"/><circle cx="259.1" cy="162.6" r="5.5"/><circle cx="262.2" cy="161.4" r="5.5"/><circle cx="265.4" cy="160.6" r="5.5"/><circle cx="268.6" cy="160.2" r="5.5"/><circle cx="271.8" cy="161.0" r="5.5"/><circle cx="275.0" cy="161.8" r="5.5"/><circle cx="278.2" cy="162.9" r="5.5"/><circle cx="281.4" cy="163.7" r="5.5"/><circle cx="284.6" cy="164.6" r="5.5"/><circle cx="287.8" cy="165.5" r="5.5"/><circle cx="291.0" cy="166.1" r="5.5"/><circle cx="294.1" cy="166.5" r="5.5"/><circle cx="297.3" cy="166.9" r="5.5"/><circle cx="300.5" cy="166.7" r="5.5"/><circle cx="303.7" cy="166.2" r="5.5"/><circle cx="306.9" cy="165.4" r="5.5"/><circle cx="310.1" cy="164.5" r="5.5"/><circle cx="313.3" cy="162.3" r="5.5"/><circle cx="316.5" cy="160.3" r="5.5"/><circle cx="319.7" cy="159.2" r="5.5"/><circle cx="322.9" cy="157.9" r="5.5"/><circle cx="326.1" cy="156.0" r="5.5"/><circle cx="329.2" cy="154.2" r="5.5"/><circle cx="332.4" cy="152.8" r="5.5"/><circle cx="335.6" cy="151.3" r="5.5"/><circle cx="338.8" cy="149.5" r="5.5"/><circle cx="342.0" cy="147.5" r="5.5"/><circle cx="345.2" cy="145.6" r="5.5"/><circle cx="348.4" cy="143.8" r="5.5"/><circle cx="351.6" cy="141.9" r="5.5"/><circle cx="354.8" cy="139.9" r="5.5"/><circle cx="357.9" cy="137.8" r="5.5"/><circle cx="361.1" cy="135.9" r="5.5"/><circle cx="364.3" cy="134.3" r="5.5"/><circle cx="367.5" cy="132.6" r="5.5"/><circle cx="370.7" cy="130.5" r="5.5"/><circle cx="373.9" cy="128.2" r="5.5"/><circle cx="377.1" cy="126.4" r="5.5"/><circle cx="380.3" cy="124.7" r="5.5"/><circle cx="383.5" cy="123.0" r="5.5"/><circle cx="386.7" cy="121.3" r="5.5"/><circle cx="389.9" cy="119.8" r="5.5"/><circle cx="393.0" cy="118.8" r="5.5"/><circle cx="396.2" cy="117.9" r="5.5"/><circle cx="399.4" cy="117.0" r="5.5"/><circle cx="402.6" cy="116.1" r="5.5"/><circle cx="405.8" cy="115.4" r="5.5"/><circle cx="409.0" cy="114.7" r="5.5"/><circle cx="412.2" cy="114.1" r="5.5"/><circle cx="415.4" cy="113.4" r="5.5"/><circle cx="418.6" cy="112.9" r="5.5"/><circle cx="421.8" cy="112.9" r="5.5"/><circle cx="424.9" cy="112.9" r="5.5"/><circle cx="428.1" cy="113.0" r="5.5"/><circle cx="431.3" cy="113.0" r="5.5"/><circle cx="434.5" cy="113.0" r="5.5"/><circle cx="437.7" cy="112.7" r="5.5"/><circle cx="440.9" cy="112.2" r="5.5"/><circle cx="444.1" cy="111.1" r="5.5"/><circle cx="447.3" cy="110.1" r="5.5"/><circle cx="450.5" cy="109.3" r="5.5"/><circle cx="453.6" cy="108.8" r="5.5"/><circle cx="456.8" cy="108.3" r="5.5"/><circle cx="460.0" cy="107.8" r="5.5"/><circle cx="463.2" cy="107.4" r="5.5"/><circle cx="466.4" cy="107.3" r="5.5"/><circle cx="469.6" cy="107.3" r="5.5"/><circle cx="472.8" cy="107.3" r="5.5"/><circle cx="476.0" cy="107.3" r="5.5"/><circle cx="479.2" cy="107.2" r="5.5"/><circle cx="482.4" cy="107.1" r="5.5"/><circle cx="485.6" cy="107.2" r="5.5"/><circle cx="488.7" cy="107.9" r="5.5"/><circle cx="491.9" cy="108.6" r="5.5"/><circle cx="495.1" cy="109.3" r="5.5"/><circle cx="498.3" cy="109.9" r="5.5"/><circle cx="501.5" cy="110.0" r="5.5"/><circle cx="504.7" cy="109.4" r="5.5"/><circle cx="507.9" cy="108.9" r="5.5"/><circle cx="511.1" cy="108.4" r="5.5"/><circle cx="514.3" cy="108.0" r="5.5"/><circle cx="517.4" cy="108.1" r="5.5"/><circle cx="520.6" cy="108.2" r="5.5"/><circle cx="523.8" cy="108.3" r="5.5"/><circle cx="527.0" cy="108.4" r="5.5"/><circle cx="530.2" cy="108.6" r="5.5"/><circle cx="533.4" cy="109.0" r="5.5"/></g>
<g font-family="Liberation Sans, sans-serif" font-weight="bold" fill="#000" font-size="14" text-anchor="end">
<text x="72.6" y="14.3" textLength="41.8" lengthAdjust="spacingAndGlyphs">15000</text>
<text x="72.6" y="47.5" textLength="41.8" lengthAdjust="spacingAndGlyphs">10000</text>
<text x="72.6" y="80.7" textLength="33.5" lengthAdjust="spacingAndGlyphs">5000</text>
<text x="72.6" y="113.9" textLength="10" lengthAdjust="spacingAndGlyphs">0</text>
<text x="72.6" y="147.1" textLength="37.6" lengthAdjust="spacingAndGlyphs">-5000</text>
<text x="72.6" y="180.3" textLength="46.4" lengthAdjust="spacingAndGlyphs">-10000</text>
<text x="72.6" y="213.5" textLength="46.4" lengthAdjust="spacingAndGlyphs">-15000</text>
</g>
<g font-family="Liberation Sans, sans-serif" font-weight="bold" fill="#000" font-size="14" text-anchor="middle">
<text x="87.7" y="234.2" textLength="25.8" lengthAdjust="spacingAndGlyphs">190</text>
<text x="151.6" y="234.2" textLength="25.8" lengthAdjust="spacingAndGlyphs">200</text>
<text x="215.2" y="234.2" textLength="25.8" lengthAdjust="spacingAndGlyphs">210</text>
<text x="278.9" y="234.2" textLength="25.8" lengthAdjust="spacingAndGlyphs">220</text>
<text x="343.2" y="234.2" textLength="25.8" lengthAdjust="spacingAndGlyphs">230</text>
<text x="406.8" y="234.2" textLength="25.8" lengthAdjust="spacingAndGlyphs">240</text>
<text x="470.5" y="234.2" textLength="25.8" lengthAdjust="spacingAndGlyphs">250</text>
<text x="534.8" y="234.2" textLength="25.8" lengthAdjust="spacingAndGlyphs">260</text>
</g>
<text font-family="Liberation Sans, sans-serif" font-weight="bold" fill="#000" font-size="15" text-anchor="middle" x="310.4" y="260" textLength="130.4" lengthAdjust="spacingAndGlyphs">Wavelength (nm)</text>
<text font-family="Liberation Sans, sans-serif" font-weight="bold" fill="#000" font-size="15" transform="translate(14 181.9) rotate(-90)" textLength="10.4" lengthAdjust="spacingAndGlyphs">θ</text>
<text font-family="Liberation Sans, sans-serif" font-weight="bold" fill="#000" font-size="15" transform="translate(14 169.3) rotate(-90)" textLength="134.4" lengthAdjust="spacingAndGlyphs">(deg.cm2.dmol-1)</text>
<g font-family="Liberation Sans, sans-serif" font-weight="bold" fill="#000" font-size="14">
<circle cx="106.4" cy="305.3" r="3.8" fill="#FF84F6"/>
<text x="114.4" y="310.5" textLength="53.3" lengthAdjust="spacingAndGlyphs">INS-SOL</text>
<rect x="253.3" y="301.2" width="7.4" height="7.2" fill="#E4000E"/>
<text x="265.4" y="310.5" textLength="51.2" lengthAdjust="spacingAndGlyphs">INS-LAE</text>
<text x="319.5" y="310.5" textLength="37.9" lengthAdjust="spacingAndGlyphs">(1 : 1)</text>
<path d="M408.1 301.4L412.5 309.7H403.70000000000005Z" fill="#0A36FF"/>
<text x="416.4" y="310.5" textLength="51.2" lengthAdjust="spacingAndGlyphs">INS-LAE</text>
<text x="469.9" y="310.5" textLength="47.6" lengthAdjust="spacingAndGlyphs">(1 :2.5)</text>
<rect x="101.89999999999999" y="330.5" width="9.4" height="9.1" fill="#0CAF4C"/>
<text x="115.0" y="340" textLength="51.2" lengthAdjust="spacingAndGlyphs">INS-LAE</text>
<text x="169.0" y="340" textLength="37.9" lengthAdjust="spacingAndGlyphs">(1 : 5)</text>
<rect x="252.60000000000002" y="330.7" width="9.4" height="9.1" fill="#FF7F27"/>
<text x="265.8" y="340" textLength="51.2" lengthAdjust="spacingAndGlyphs">INS-LAE</text>
<text x="320.2" y="340" textLength="39.4" lengthAdjust="spacingAndGlyphs">(1:7.5)</text>
<circle cx="407.7" cy="334.5" r="4.75" fill="#802DB0"/>
<text x="416.4" y="340" textLength="51.2" lengthAdjust="spacingAndGlyphs">INS-LAE</text>
<text x="469.9" y="340" textLength="46.2" lengthAdjust="spacingAndGlyphs">(1 : 10)</text>
</g>
</svg>
</body></html>
